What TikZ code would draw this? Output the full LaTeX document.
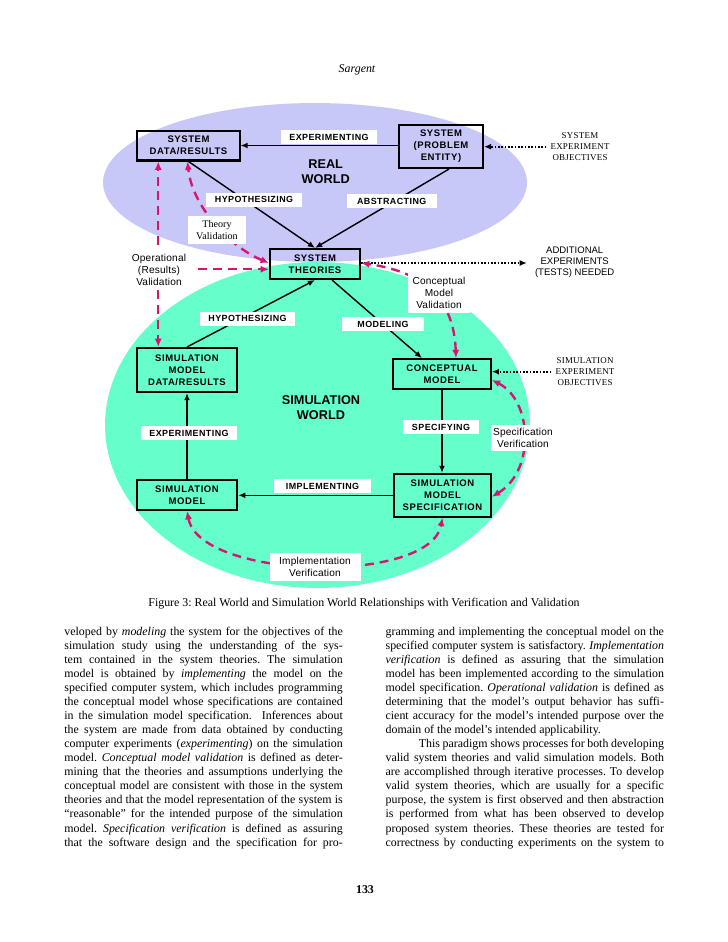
\documentclass[tikz,border=0pt]{standalone}
\usepackage{fontspec}
\setmainfont{Liberation Serif}
\setsansfont{Liberation Sans}
\newfontfamily\boxfont{Liberation Sans}[LetterSpace=6]
\newfontfamily\lblfont{Liberation Sans}[LetterSpace=5]
\newfontfamily\txtfont{Liberation Sans}[LetterSpace=2]
\newfontfamily\capfont{Liberation Serif}[LetterSpace=3]
\usetikzlibrary{arrows.meta,calc}
\definecolor{realblue}{RGB}{200,200,248}
\definecolor{simgreen}{RGB}{102,255,204}
\definecolor{vvmag}{RGB}{214,22,110}
\newcommand\jl[1]{\hbox to \hsize{#1}}
\frenchspacing
\begin{document}
\begin{tikzpicture}[x=0.8407pt,y=-0.8407pt,
  dbox/.style={draw=black, line width=1.7pt, align=center, inner sep=0pt,
    font=\boxfont\bfseries\fontsize{8}{10}\selectfont},
  lbl/.style={fill=white, inner sep=0pt, font=\lblfont\bfseries\fontsize{7.5}{9}\selectfont},
  world/.style={align=center, font=\sffamily\bfseries\fontsize{10.7}{12.6}\selectfont},
  vlabel/.style={fill=white, inner sep=0pt, align=center, font=\txtfont\fontsize{8.5}{10.2}\selectfont},
  objlabel/.style={align=center, font=\capfont\fontsize{7.5}{9.25}\selectfont},
  flow/.style={line width=1.2pt, -{Latex[length=6pt,width=5pt]}},
  dotarr/.style={line width=1.6pt, dash pattern=on 1.4pt off 1.4pt, -{Latex[length=6pt,width=5pt]}},
  valid/.style={draw=vvmag, line width=2pt, dash pattern=on 7.5pt off 5pt},
  vtip/.style={-{Latex[length=7pt,width=6pt]}},
  vtips/.style={{Latex[length=7pt,width=6pt]}-{Latex[length=7pt,width=6pt]}}
]
\fill[white] (0,0) rectangle (728,942);
\useasboundingbox (0,0) rectangle (728,942);

% worlds
\fill[simgreen] (317.5,425) ellipse [x radius=178.6pt, y radius=137pt];
\fill[realblue] (315,182.5) ellipse [x radius=178.2pt, y radius=66.8pt];

% boxes
\node[dbox, minimum width=85.8pt, minimum height=25.2pt] (sdr) at (188.5,145.5) {SYSTEM\\DATA/RESULTS};
\node[dbox, minimum width=70.6pt, minimum height=36.2pt] (sys) at (441,146.5) {SYSTEM\\(PROBLEM\\ENTITY)};
\node[dbox, minimum width=75.7pt, minimum height=25.2pt] (st) at (315,264) {SYSTEM\\THEORIES};
\node[dbox, minimum width=84.6pt, minimum height=37pt] (smdr) at (187,370) {SIMULATION\\MODEL\\DATA/RESULTS};
\node[dbox, minimum width=82.1pt, minimum height=25pt] (cm) at (442,374) {CONCEPTUAL\\MODEL};
\node[dbox, minimum width=84.6pt, minimum height=25.2pt] (sm) at (187,495) {SIMULATION\\MODEL};
\node[dbox, minimum width=81.3pt, minimum height=35.9pt] (sms) at (442.5,495.3) {SIMULATION\\MODEL\\SPECIFICATION};

% solid flows
\draw[flow] (sys.west |- sdr.east) -- (sdr.east);
\draw[flow] (sdr.south) -- (st.north);
\draw[flow] ($(sys.south)+(8,0)$) -- (st.north);
\draw[flow] (smdr.north) -- (st.south);
\draw[flow] ($(st.south)+(17,0)$) -- ($(cm.north)+(-20,0)$);
\draw[flow] (cm.south) -- (cm.south |- sms.north);
\draw[flow] (sms.west) -- (sms.west -| sm.east);
\draw[flow] (sm.north) -- (smdr.south);

% text nodes
\node[world] (rw) at (325.7,171.7) {REAL\\WORLD};
\node[world] (sw) at (321,408) {SIMULATION\\WORLD};
\node[objlabel] (seo) at (580,146.7) {SYSTEM\\EXPERIMENT\\OBJECTIVES};
\node[objlabel] (simeo) at (585,371.7) {SIMULATION\\EXPERIMENT\\OBJECTIVES};
\node[align=center, font=\sffamily\fontsize{8}{9.25}\selectfont] (aen) at (574.7,262) {ADDITIONAL\\EXPERIMENTS\\(TESTS) NEEDED};
\node[align=center, font=\txtfont\fontsize{8.5}{10}\selectfont] (opv) at (159,270) {Operational\\(Results)\\Validation};

% dotted
\draw[dotarr] (seo.west) -- (seo.west -| sys.east);
\draw[dotarr] ($(st.east)+(0,-1)$) -- ($(st.east -| aen.west)+(-4,-1)$);
\draw[dotarr] (simeo.west) -- (simeo.west -| cm.east);

% validation / verification
\coordinate (opu) at (158.3,245);
\coordinate (opd) at (158.3,290);
\coordinate (opr) at (198.3,269.3);
\draw[valid, vtip] (opu) -- (opu |- sdr.south);
\draw[valid, vtip] (opd) -- (opd |- smdr.north);
\draw[valid, vtip] (opr) -- (opr -| st.west);
\draw[valid, vtips] ($(st.west)+(0,-1)$) .. controls (228,246) and (192,205) .. ($(sdr.south)+(-1,0)$);
\draw[valid, vtips] ($(cm.north)+(14,0)$) .. controls (454,300) and (425,272) .. ($(st.east)+(0,-1)$);
\draw[valid, vtips] ($(cm.east)+(0,6)$) .. controls (532,400) and (536,470) .. ($(sms.east)+(0,1.5)$);
\draw[valid, vtips] (sm.south) .. controls (200,580) and (430,585) .. (sms.south);

% labels on flows
\node[lbl, minimum width=81.5pt, minimum height=11.2pt] (lexp1) at (329,137) {EXPERIMENTING};
\node[lbl, minimum width=80.7pt, minimum height=11.8pt] (lhyp1) at (254,199.7) {HYPOTHESIZING};
\node[lbl, minimum width=75.7pt, minimum height=11.8pt] (labs) at (391.7,201.3) {ABSTRACTING};
\node[lbl, minimum width=80.7pt, minimum height=11.5pt] (lhyp2) at (247.5,318.8) {HYPOTHESIZING};
\node[lbl, minimum width=69pt, minimum height=11.2pt] (lmod) at (383,324) {MODELING};
\node[lbl, minimum width=79.9pt, minimum height=11.8pt] (lexp2) at (189,433) {EXPERIMENTING};
\node[lbl, minimum width=63.9pt, minimum height=11.8pt] (lspec) at (441,427) {SPECIFYING};
\node[lbl, minimum width=81pt, minimum height=11.2pt] (limp) at (322.5,486) {IMPLEMENTING};

\node[vlabel, font=\rmfamily\fontsize{8.5}{9.5}\selectfont, minimum width=48.5pt, minimum height=23.5pt] (tv) at (217,230) {Theory\\Validation};
\node[vlabel, minimum width=52pt, minimum height=33.6pt] (cmv) at (439,293) {Conceptual\\Model\\Validation};
\node[vlabel, minimum width=54pt, minimum height=22.4pt] (spv) at (523,438) {Specification\\Verification};
\node[vlabel, minimum width=76.5pt, minimum height=23.3pt] (imv) at (315,567) {Implementation\\Verification};

% page text
\node[font=\itshape\fontsize{10}{12}\selectfont] (hdr) at (357,70) {Sargent};
\node[font=\fontsize{10}{12}\selectfont] (cap) at (364,604) {Figure 3: Real World and Simulation World Relationships with Verification and Validation};
\node[font=\bfseries\fontsize{10}{12}\selectfont] (pg) at (365,890) {133};

\node[anchor=base west, inner sep=0pt] (colL) at (64.2,635) {\vtop{\hsize=234pt \fontsize{10}{11.83}\selectfont
\jl{veloped by \textit{modeling} the system for the objectives of the}
\jl{simulation study using the understanding of the sys-}
\jl{tem contained in the system theories. The simulation}
\jl{model is obtained by \textit{implementing} the model on the}
\jl{specified computer system, which includes programming}
\jl{the conceptual model whose specifications are contained}
\jl{in the simulation model specification.\ \ Inferences about}
\jl{the system are made from data obtained by conducting}
\jl{computer experiments (\textit{experimenting}) on the simulation}
\jl{model. \textit{Conceptual model validation} is defined as deter-}
\jl{mining that the theories and assumptions underlying the}
\jl{conceptual model are consistent with those in the system}
\jl{theories and that the model representation of the system is}
\jl{``reasonable'' for the intended purpose of the simulation}
\jl{model. \textit{Specification verification} is defined as assuring}
\jl{that the software design and the specification for pro-}
}};

\node[anchor=base west, inner sep=0pt] (colR) at (385.4,635) {\vtop{\hsize=234pt \fontsize{10}{11.83}\selectfont
\jl{gramming and implementing the conceptual model on the}
\jl{specified computer system is satisfactory. \textit{Implementation}}
\jl{\textit{verification} is defined as assuring that the simulation}
\jl{model has been implemented according to the simulation}
\jl{model specification. \textit{Operational validation} is defined as}
\jl{determining that the model's output behavior has suffi-}
\jl{cient accuracy for the model's intended purpose over the}
\jl{domain of the model's intended applicability.\hfil}
\jl{\hspace{28pt}This paradigm shows processes for both developing}
\jl{valid system theories and valid simulation models. Both}
\jl{are accomplished through iterative processes. To develop}
\jl{valid system theories, which are usually for a specific}
\jl{purpose, the system is first observed and then abstraction}
\jl{is performed from what has been observed to develop}
\jl{proposed system theories. These theories are tested for}
\jl{correctness by conducting experiments on the system to}
}};
\end{tikzpicture}
\end{document}
